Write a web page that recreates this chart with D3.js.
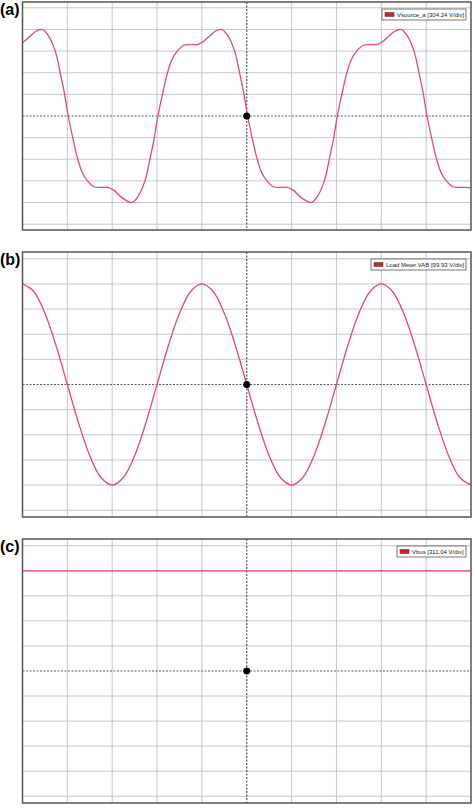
<!DOCTYPE html>
<html>
<head>
<meta charset="utf-8">
<script src="https://cdn.jsdelivr.net/npm/d3@7"></script>
<style>
  body { margin: 0; background: #fff; }
  svg { display: block; }
</style>
</head>
<body>
<script>
// trace values in divisions (x: 0..10 across, y: -5..5 around centre)
var xA = [0, 0.15, 0.3, 0.44, 0.58, 0.73, 0.85, 0.93, 1.02, 1.12, 1.22, 1.33, 1.45, 1.6, 1.75, 1.9,
          2.05, 2.2, 2.44, 2.58, 2.73, 2.85, 2.93, 3.02, 3.12, 3.22, 3.33, 3.45, 3.6, 3.75, 3.9,
          4.0, 4.15, 4.3, 4.44, 4.58, 4.73, 4.85, 4.93, 5.02, 5.12, 5.22, 5.33, 5.45, 5.6, 5.75, 5.9,
          6.05, 6.2, 6.44, 6.58, 6.73, 6.85, 6.93, 7.02, 7.12, 7.22, 7.33, 7.45, 7.6, 7.75, 7.9,
          8.0, 8.15, 8.3, 8.44, 8.58, 8.73, 8.85, 8.93, 9.02, 9.12, 9.22, 9.33, 9.45, 9.6, 9.75, 9.9, 10]
var yA = [3.38, 3.65, 3.92, 4.0, 3.7, 3.0, 1.9, 1.1, 0, -1.0, -1.9, -2.6, -3.0, -3.27, -3.3, -3.3,
          -3.45, -3.75, -4.0, -3.7, -3.0, -1.9, -1.1, 0, 1.0, 1.9, 2.6, 3.0, 3.27, 3.3, 3.3,
          3.4, 3.65, 3.92, 4.0, 3.7, 3.0, 1.9, 1.1, 0, -1.0, -1.9, -2.6, -3.0, -3.27, -3.3, -3.3,
          -3.45, -3.75, -4.0, -3.7, -3.0, -1.9, -1.1, 0, 1.0, 1.9, 2.6, 3.0, 3.27, 3.3, 3.3,
          3.4, 3.65, 3.92, 4.0, 3.7, 3.0, 1.9, 1.1, 0, -1.0, -1.9, -2.6, -3.0, -3.27, -3.3, -3.3, -3.32]

var xB = [0, 0.25, 0.5, 0.75, 1, 1.25, 1.5, 1.75, 2, 2.25, 2.5, 2.75, 3, 3.25, 3.5, 3.75,
          4, 4.25, 4.5, 4.75, 5, 5.25, 5.5, 5.75, 6, 6.25, 6.5, 6.75, 7, 7.25, 7.5, 7.75,
          8, 8.25, 8.5, 8.75, 9, 9.25, 9.5, 9.75, 10]
var yB = [4, 3.7, 2.83, 1.53, 0, -1.53, -2.83, -3.7, -4, -3.7, -2.83, -1.53, 0, 1.53, 2.83, 3.7,
          4, 3.7, 2.83, 1.53, 0, -1.53, -2.83, -3.7, -4, -3.7, -2.83, -1.53, 0, 1.53, 2.83, 3.7,
          4, 3.7, 2.83, 1.53, 0, -1.53, -2.83, -3.7, -4]

var xC = [0, 10]
var yC = [4, 4]

var panels = [
  {label: "(a)", legend: "Vsource_a [304.24 V/div]", xs: xA, ys: yA, top: 2, bottom: 230, lw: 84},
  {label: "(b)", legend: "Load Meter.VAB [99.93 V/div]", xs: xB, ys: yB, top: 252, bottom: 517, lw: 95},
  {label: "(c)", legend: "Vbus [311.04 V/div]", xs: xC, ys: yC, top: 539, bottom: 803, lw: 69}
]

var svg = d3.select("body").append("svg")
  .attr("width", 474)
  .attr("height", 810)

var left = 22.5, right = 471

panels.forEach(function(p) {
  var x = d3.scaleLinear().domain([0, 10]).range([left, right])
  var y = d3.scaleLinear().domain([-5.27, 5.27]).range([p.bottom, p.top])
  var g = svg.append("g")

  // grid
  g.selectAll(".vg").data(d3.range(1, 10).filter(function(d) { return d != 5 }))
    .enter().append("line")
      .attr("x1", function(d) { return x(d) }).attr("x2", function(d) { return x(d) })
      .attr("y1", p.top).attr("y2", p.bottom)
      .attr("stroke", "#c4c8c8").attr("stroke-width", 1)
  g.selectAll(".hg").data(d3.range(-5, 6).filter(function(d) { return d != 0 }))
    .enter().append("line")
      .attr("x1", left).attr("x2", right)
      .attr("y1", function(d) { return y(d) }).attr("y2", function(d) { return y(d) })
      .attr("stroke", "#c4c8c8").attr("stroke-width", 1)

  // centre cross, dotted
  g.append("line")
    .attr("x1", x(5)).attr("x2", x(5)).attr("y1", p.top).attr("y2", p.bottom)
    .attr("stroke", "#333").attr("stroke-width", 1).attr("stroke-dasharray", "2,1.5")
  g.append("line")
    .attr("x1", left).attr("x2", right).attr("y1", y(0)).attr("y2", y(0))
    .attr("stroke", "#333").attr("stroke-width", 0.8).attr("stroke-dasharray", "2,1.5")

  // trace
  var pts = p.xs.map(function(d, i) { return [d, p.ys[i]] })
  g.append("path")
    .datum(pts)
    .attr("d", d3.line().x(function(d) { return x(d[0]) }).y(function(d) { return y(d[1]) })
      .curve(d3.curveCatmullRom))
    .attr("fill", "none").attr("stroke", "#e8466c").attr("stroke-width", 1.3)

  g.append("circle").attr("cx", x(5)).attr("cy", y(0)).attr("r", 3.5).attr("fill", "#000")

  // border
  g.append("rect")
    .attr("x", left).attr("y", p.top).attr("width", right - left).attr("height", p.bottom - p.top)
    .attr("fill", "none").attr("stroke", "#555").attr("stroke-width", 1.5)

  // legend
  var lx = right - 5 - p.lw, ly = p.top + 7
  g.append("rect").attr("x", lx).attr("y", ly).attr("width", p.lw).attr("height", 11)
    .attr("fill", "#fff").attr("stroke", "#555").attr("stroke-width", 0.8)
  g.append("rect").attr("x", lx + 3).attr("y", ly + 3.5).attr("width", 9).attr("height", 4)
    .attr("fill", "#d81e2c").attr("stroke", "#333").attr("stroke-width", 0.5)
  g.append("text").attr("x", lx + 15).attr("y", ly + 8)
    .attr("font-family", "Liberation Sans, Arial, sans-serif").attr("font-size", 6)
    .attr("fill", "#222").text(p.legend)

  // panel label
  svg.append("text").attr("x", 0).attr("y", p.top + 13)
    .attr("font-family", "Liberation Sans, Arial, sans-serif").attr("font-weight", "bold")
    .attr("font-size", 16).attr("fill", "#000").text(p.label)
})
</script>
</body>
</html>
